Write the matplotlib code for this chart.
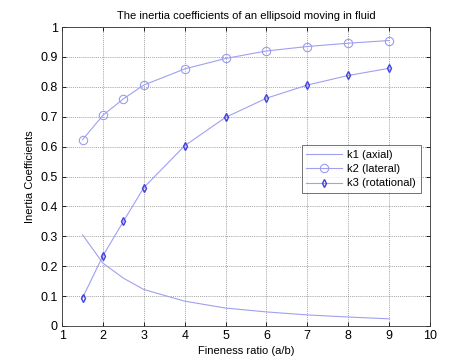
import matplotlib
matplotlib.use("Agg")
import matplotlib.pyplot as plt

ratio = [1.5, 2.0, 2.5, 3.0, 4.0, 5.0, 6.0, 7.0, 8.0, 9.0]
k1 = [0.305, 0.210, 0.160, 0.122, 0.083, 0.060, 0.047, 0.037, 0.030, 0.024]
k2 = [0.623, 0.705, 0.760, 0.806, 0.860, 0.895, 0.920, 0.935, 0.946, 0.955]
k3 = [0.094, 0.235, 0.350, 0.463, 0.603, 0.698, 0.762, 0.806, 0.838, 0.862]
xticks = [1, 2, 3, 4, 5, 6, 7, 8, 9, 10]
yticks = [0, 0.1, 0.2, 0.3, 0.4, 0.5, 0.6, 0.7, 0.8, 0.9, 1]
ytlabels = ["0", "0.1", "0.2", "0.3", "0.4", "0.5", "0.6", "0.7", "0.8", "0.9", "1"]

plt.rcParams['font.family'] = ['Liberation Sans', 'DejaVu Sans']
fig = plt.figure(figsize=(4.74, 3.61), dpi=100)
ax = fig.add_axes([0.131, 0.097, 0.776, 0.828])

lc = '#a0a0f0'
ax.plot(ratio, k1, color=lc, lw=0.8, label='k1 (axial)')
ax.plot(ratio, k2, color=lc, lw=0.8, marker='o', ms=6, mfc='none', mec='#9c9cf0', mew=0.8, label='k2 (lateral)')
ax.plot(ratio, k3, color=lc, lw=0.8, marker='d', ms=3.8, mfc='none', mec='#4040e0', mew=1.0, label='k3 (rotational)')

ax.set_xlim(1, 10)
ax.set_ylim(0, 1)
ax.set_xticks(xticks)
ax.set_yticks(yticks)
ax.set_yticklabels(ytlabels)
ax.tick_params(direction='in', top=True, right=True, labelsize=9, length=3, width=0.6, pad=3)
ax.grid(True, color='#666666', linestyle=(0, (1.5, 1.5)), linewidth=0.5, alpha=0.8)
for s in ax.spines.values():
    s.set_linewidth(0.6)
    s.set_color('#333333')

ax.set_title('The inertia coefficients of an ellipsoid moving in fluid', fontsize=8, pad=6)
ax.set_xlabel('Fineness ratio (a/b)', fontsize=8, labelpad=3)
ax.set_ylabel('Inertia Coefficients', fontsize=8, labelpad=4)

leg = ax.legend(loc='upper left', bbox_to_anchor=(0.652, 0.605), fontsize=8, frameon=True,
                fancybox=False, edgecolor='#333333', handlelength=3.2, borderpad=0.4,
                labelspacing=0.4, handletextpad=0.5, borderaxespad=0)
leg.get_frame().set_linewidth(0.6)

fig.savefig('out.png', dpi=100)
